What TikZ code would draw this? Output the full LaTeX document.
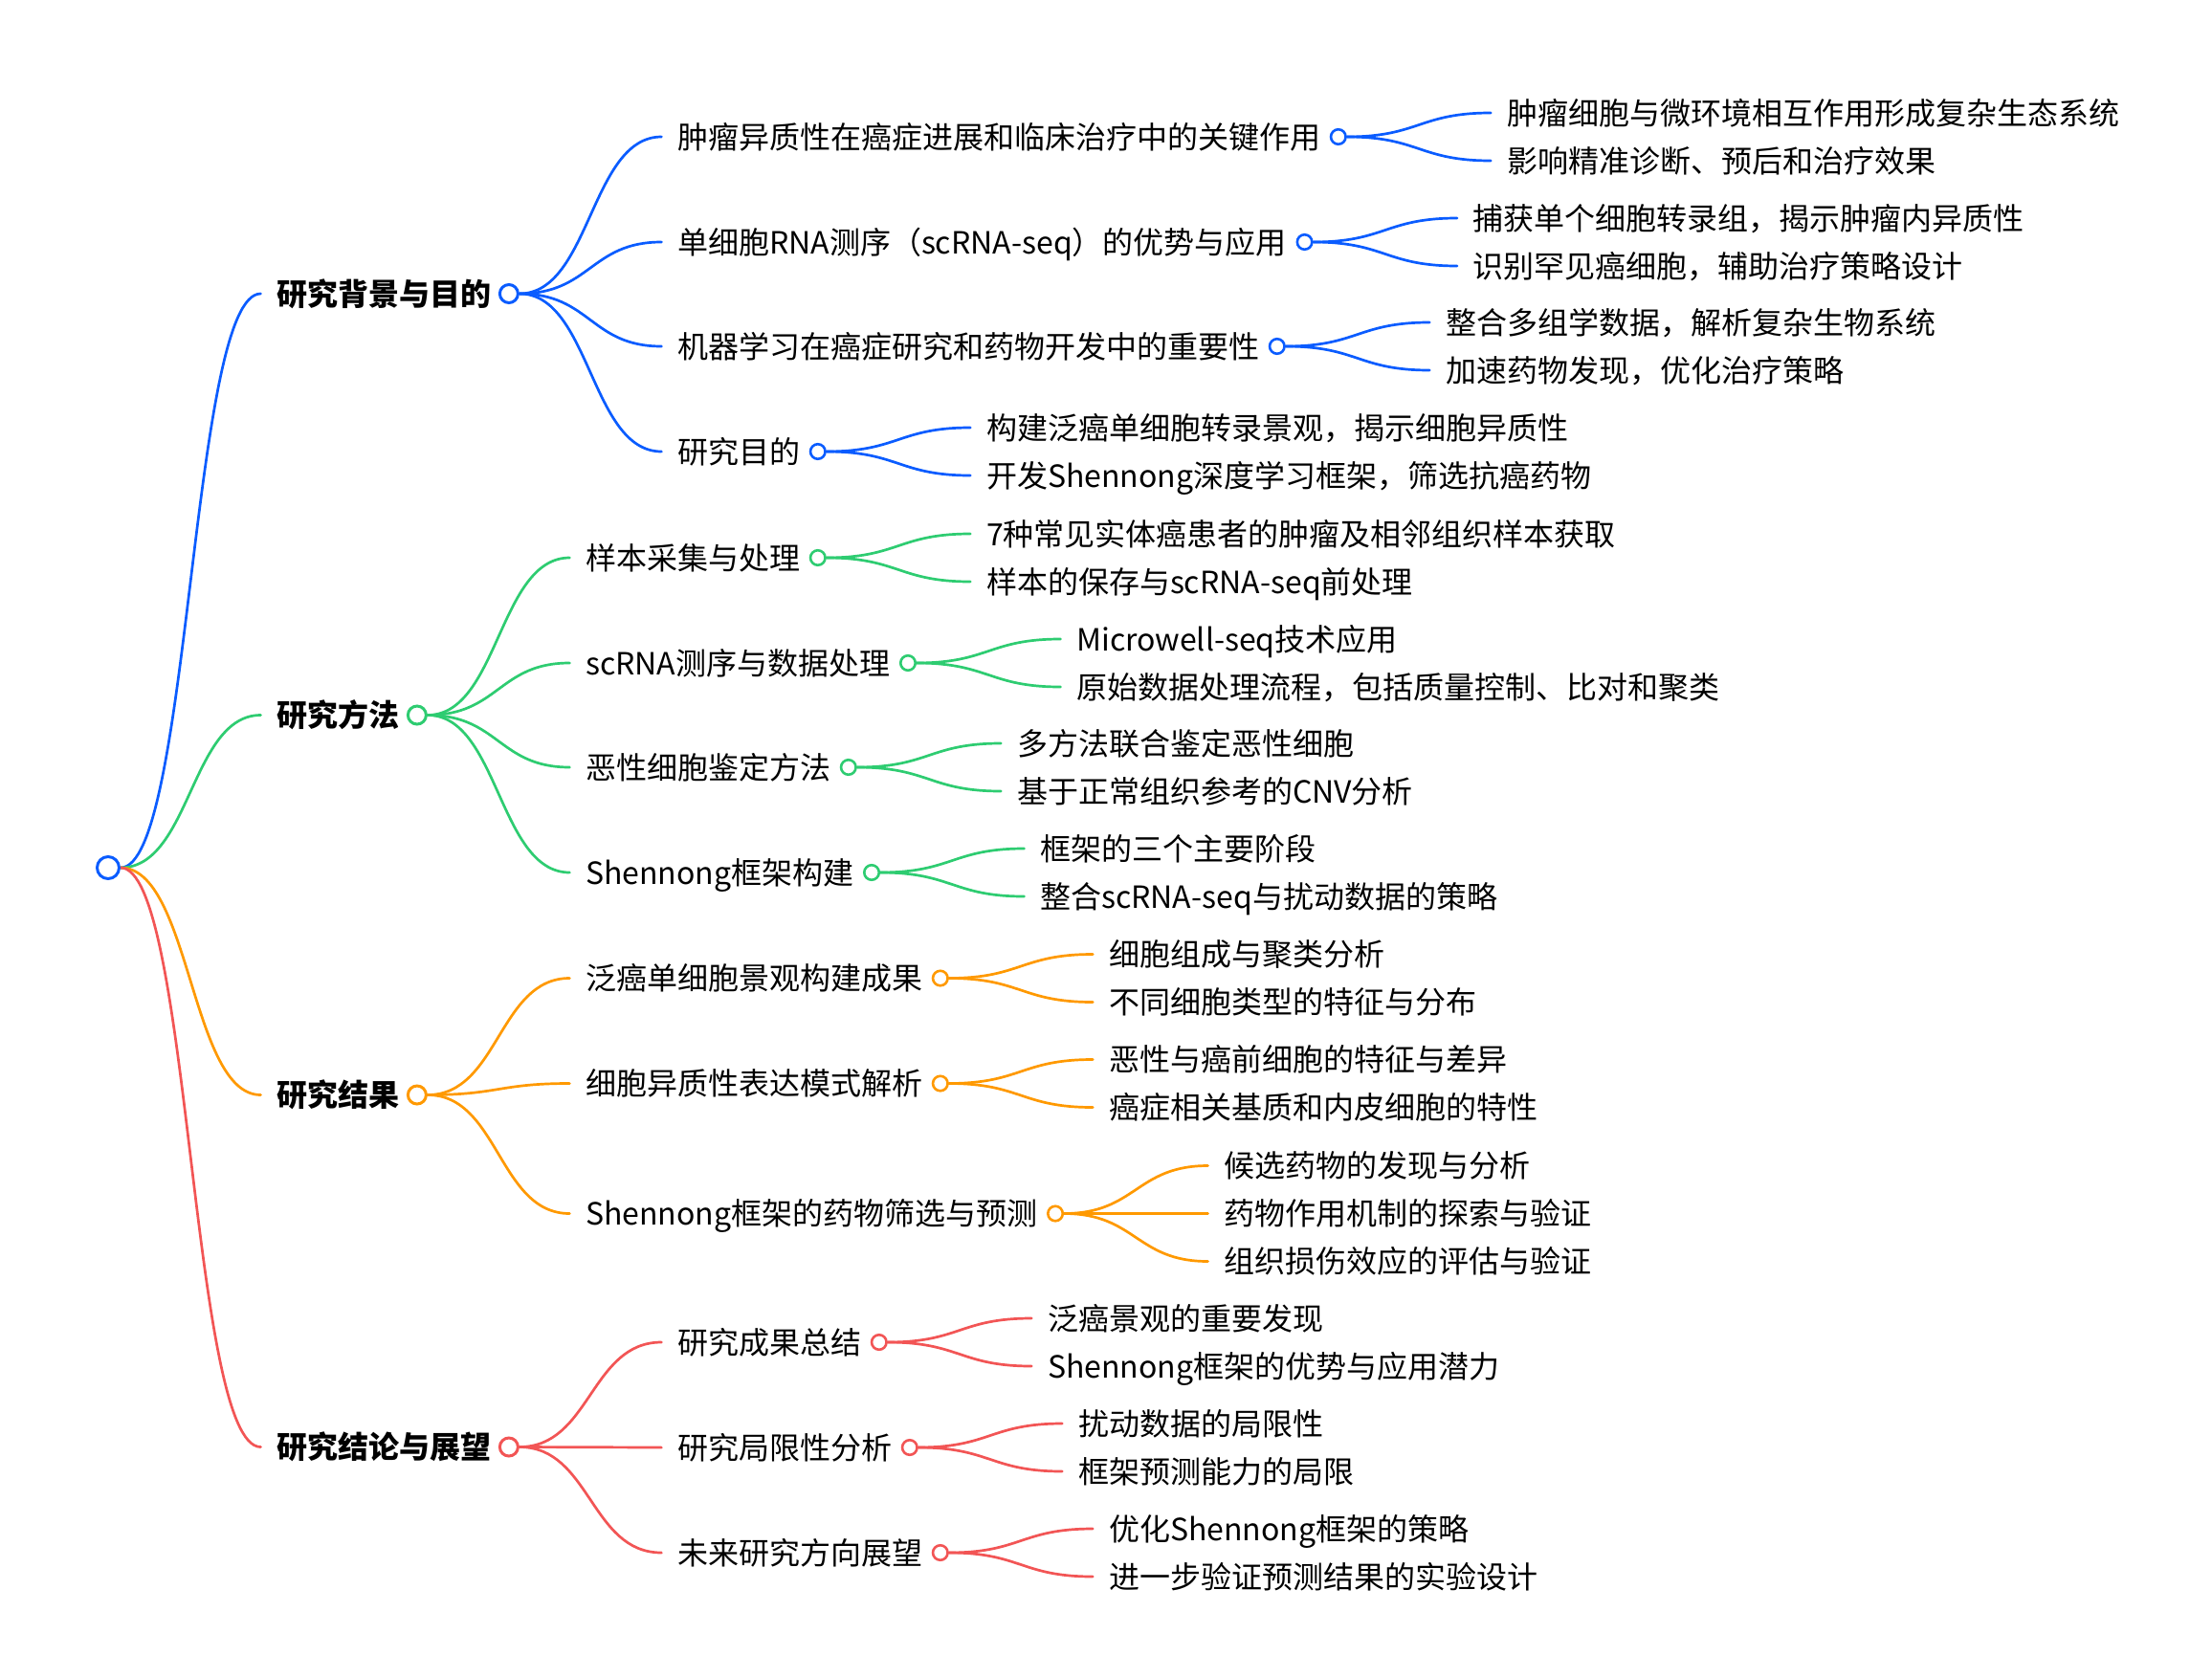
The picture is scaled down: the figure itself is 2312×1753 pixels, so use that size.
\documentclass[tikz,border=0pt]{standalone}
\usepackage{fontspec}
\setmainfont{Noto Sans CJK SC}
\usetikzlibrary{calc}
\pgfdeclarelayer{bg}
\pgfsetlayers{bg,main}
\definecolor{cblue}{HTML}{0A5CFF}
\definecolor{cgreen}{HTML}{2ECC71}
\definecolor{corange}{HTML}{FF9900}
\definecolor{cred}{HTML}{F25555}
\tikzset{
  link/.style={line width=2.7pt, line cap=round},
  lone/.style={font=\fontsize{32pt}{38pt}\selectfont\bfseries, inner sep=0pt, text height=28.16pt, text depth=3.84pt, anchor=west},
  ltxt/.style={font=\fontsize{32pt}{38pt}\selectfont, inner sep=0pt, text height=28.16pt, text depth=3.84pt, anchor=west},
  dotroot/.style={circle, line width=3pt, fill=white, minimum size=23pt, inner sep=0pt},
  dotone/.style={circle, line width=3pt, fill=white, minimum size=19pt, inner sep=0pt},
  dottwo/.style={circle, line width=2.6pt, fill=white, minimum size=15.5pt, inner sep=0pt},
}
% connector: horizontal tangents at both ends
\newcommand\mmlink[3]{%
  \begin{pgfonlayer}{bg}
  \draw[link,#1] let \p1=(#2), \p2=(#3) in
    (\p1) .. controls ({(\x1+\x2)/2},\y1) and ({(\x1+\x2)/2},\y2) .. (\p2);
  \end{pgfonlayer}}
% text node placed relative to its parent's circle
\newcommand\kid[5]{%
  \path let \p1=(#2.center) in node[#1] (#3) at (\x1+176pt,-#4pt) {#5};}
\newcommand\topnode[5]{% colour, parent, name, y, text
  \kid{lone}{#2}{#3}{#4}{#5}
  \node[dotone,draw=#1] (#3c) at ([xshift=18.5pt]#3.east) {};
  \mmlink{#1}{#2.east}{[xshift=-16.5pt]#3.west}}
\newcommand\midnode[5]{%
  \kid{ltxt}{#2}{#3}{#4}{#5}
  \node[dottwo,draw=#1] (#3c) at ([xshift=18.5pt]#3.east) {};
  \mmlink{#1}{#2.east}{[xshift=-16.5pt]#3.west}}
\newcommand\leaf[5]{%
  \kid{ltxt}{#2}{#3}{#4}{#5}
  \mmlink{#1}{#2.east}{[xshift=-16.5pt]#3.west}}
\begin{document}
\begin{tikzpicture}[x=1pt,y=1pt]
\useasboundingbox (0,0) rectangle (2312,-1753);
\node[dotroot,draw=cblue] (R) at (113,-907) {};

% ---- blue branch
\topnode{cblue}{R}{A}{307}{研究背景与目的}
\midnode{cblue}{Ac}{a1}{143}{肿瘤异质性在癌症进展和临床治疗中的关键作用}
\leaf{cblue}{a1c}{a1x}{118}{肿瘤细胞与微环境相互作用形成复杂生态系统}
\leaf{cblue}{a1c}{a1y}{168}{影响精准诊断、预后和治疗效果}
\midnode{cblue}{Ac}{a2}{253}{单细胞RNA测序（scRNA-seq）的优势与应用}
\leaf{cblue}{a2c}{a2x}{228}{捕获单个细胞转录组，揭示肿瘤内异质性}
\leaf{cblue}{a2c}{a2y}{278}{识别罕见癌细胞，辅助治疗策略设计}
\midnode{cblue}{Ac}{a3}{362}{机器学习在癌症研究和药物开发中的重要性}
\leaf{cblue}{a3c}{a3x}{337}{整合多组学数据，解析复杂生物系统}
\leaf{cblue}{a3c}{a3y}{387}{加速药物发现，优化治疗策略}
\midnode{cblue}{Ac}{a4}{472}{研究目的}
\leaf{cblue}{a4c}{a4x}{447}{构建泛癌单细胞转录景观，揭示细胞异质性}
\leaf{cblue}{a4c}{a4y}{497}{开发Shennong深度学习框架，筛选抗癌药物}

% ---- green branch
\topnode{cgreen}{R}{B}{747.5}{研究方法}
\midnode{cgreen}{Bc}{b1}{583}{样本采集与处理}
\leaf{cgreen}{b1c}{b1x}{558}{7种常见实体癌患者的肿瘤及相邻组织样本获取}
\leaf{cgreen}{b1c}{b1y}{608}{样本的保存与scRNA-seq前处理}
\midnode{cgreen}{Bc}{b2}{693}{scRNA测序与数据处理}
\leaf{cgreen}{b2c}{b2x}{668}{Microwell-seq技术应用}
\leaf{cgreen}{b2c}{b2y}{718}{原始数据处理流程，包括质量控制、比对和聚类}
\midnode{cgreen}{Bc}{b3}{802}{恶性细胞鉴定方法}
\leaf{cgreen}{b3c}{b3x}{777}{多方法联合鉴定恶性细胞}
\leaf{cgreen}{b3c}{b3y}{827}{基于正常组织参考的CNV分析}
\midnode{cgreen}{Bc}{b4}{912}{Shennong框架构建}
\leaf{cgreen}{b4c}{b4x}{887}{框架的三个主要阶段}
\leaf{cgreen}{b4c}{b4y}{937}{整合scRNA-seq与扰动数据的策略}

% ---- orange branch
\topnode{corange}{R}{C}{1144.5}{研究结果}
\midnode{corange}{Cc}{c1}{1022.5}{泛癌单细胞景观构建成果}
\leaf{corange}{c1c}{c1x}{997.5}{细胞组成与聚类分析}
\leaf{corange}{c1c}{c1y}{1047.5}{不同细胞类型的特征与分布}
\midnode{corange}{Cc}{c2}{1132.5}{细胞异质性表达模式解析}
\leaf{corange}{c2c}{c2x}{1107.5}{恶性与癌前细胞的特征与差异}
\leaf{corange}{c2c}{c2y}{1157.5}{癌症相关基质和内皮细胞的特性}
\midnode{corange}{Cc}{c3}{1268.5}{Shennong框架的药物筛选与预测}
\leaf{corange}{c3c}{c3x}{1218.5}{候选药物的发现与分析}
\leaf{corange}{c3c}{c3y}{1268.5}{药物作用机制的探索与验证}
\leaf{corange}{c3c}{c3z}{1318.5}{组织损伤效应的评估与验证}

% ---- red branch
\topnode{cred}{R}{D}{1512.5}{研究结论与展望}
\midnode{cred}{Dc}{d1}{1403}{研究成果总结}
\leaf{cred}{d1c}{d1x}{1378}{泛癌景观的重要发现}
\leaf{cred}{d1c}{d1y}{1428}{Shennong框架的优势与应用潜力}
\midnode{cred}{Dc}{d2}{1513}{研究局限性分析}
\leaf{cred}{d2c}{d2x}{1488}{扰动数据的局限性}
\leaf{cred}{d2c}{d2y}{1538}{框架预测能力的局限}
\midnode{cred}{Dc}{d3}{1623}{未来研究方向展望}
\leaf{cred}{d3c}{d3x}{1598}{优化Shennong框架的策略}
\leaf{cred}{d3c}{d3y}{1648}{进一步验证预测结果的实验设计}
\end{tikzpicture}
\end{document}
